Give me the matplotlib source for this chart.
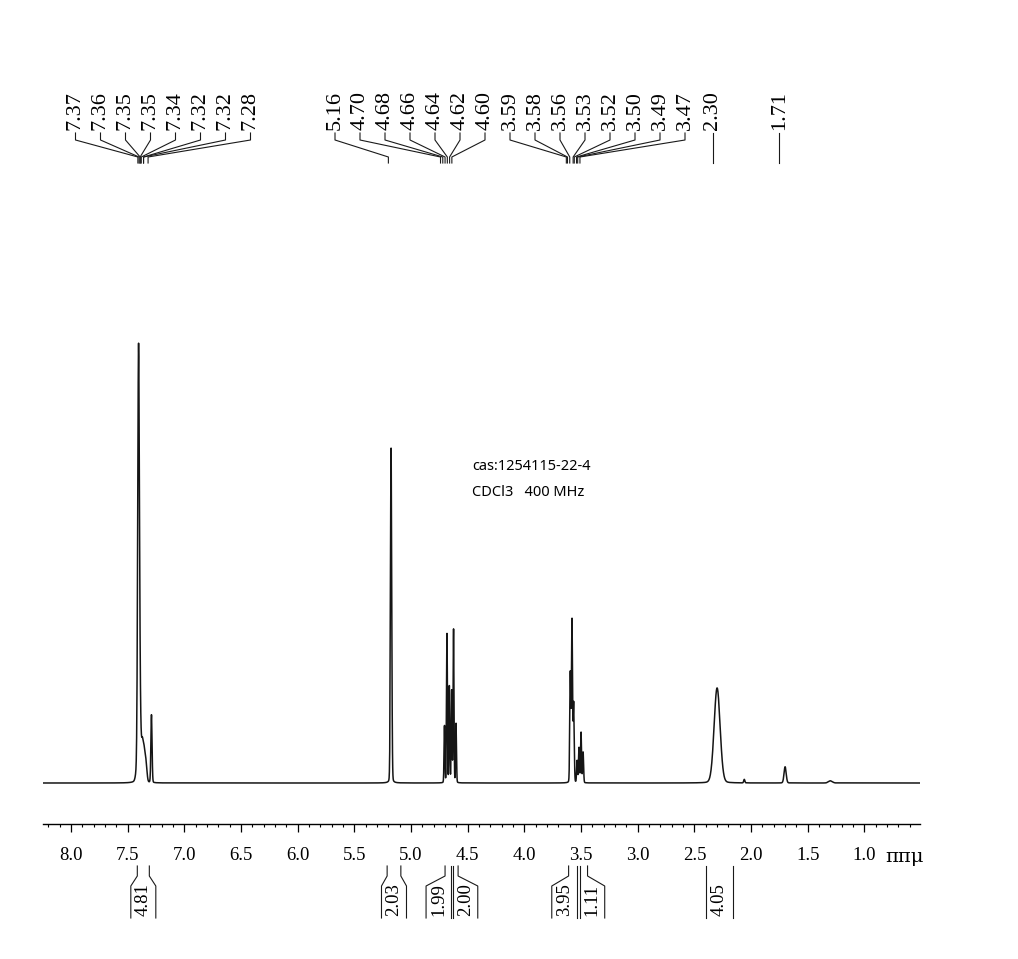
import numpy as np
import matplotlib
matplotlib.use("Agg")
import matplotlib.pyplot as plt
from matplotlib.transforms import blended_transform_factory

plt.rcParams['font.family'] = ['Liberation Serif', 'DejaVu Serif']

W, H = 1018, 959

# peaks: shift (ppm), height (% of tallest), width (ppm)
peak_ppm = [7.404, 7.390, 7.370, 7.354, 7.338, 7.425, 7.290,
            5.176,
            4.705, 4.683, 4.662, 4.642, 4.625, 4.603,
            3.595, 3.580, 3.565, 3.535, 3.518, 3.500, 3.482,
            2.300, 2.060, 1.700, 1.300]
peak_height = [97, 12, 8, 6, 4, 1.2, 15.5,
               76.5,
               13, 34, 22, 21, 35, 13.5,
               25, 37, 18, 5, 8, 11.5, 7,
               21.7, 0.8, 3.7, 0.5]
peak_width = [0.018, 0.02, 0.02, 0.02, 0.02, 0.02, 0.012,
              0.013,
              0.009, 0.009, 0.009, 0.009, 0.009, 0.009,
              0.011, 0.011, 0.011, 0.01, 0.01, 0.01, 0.01,
              0.062, 0.012, 0.022, 0.04]

# shift labels at the top
group1_labels = ["7.37", "7.36", "7.35", "7.35", "7.34", "7.32", "7.32", "7.28"]
group2_labels = ["5.16", "4.70", "4.68", "4.66", "4.64", "4.62", "4.60",
                 "3.59", "3.58", "3.56", "3.53", "3.52", "3.50", "3.49", "3.47"]
single_labels = ["2.30", "1.71"]

# integrals under the axis
int_values = ["4.81", "2.03", "1.99", "2.00", "3.95", "1.11", "4.05"]
int_from = [7.415, 5.211, 4.700, 4.632, 3.610, 3.512, 2.395]
int_to = [7.309, 5.090, 4.647, 4.585, 3.538, 3.443, 2.163]
int_widen = ["both", "both", "left", "right", "left", "right", "none"]

xmin, xmax = 0.51, 8.247
ax_left, ax_right = 43, 920
ax_top, ax_bottom = 60, 824
base_px = 783
px_per_unit = 4.38


def fy(py):
    return 1 - py / H


ppm_per_px = (xmax - xmin) / (ax_right - ax_left)

fig = plt.figure(figsize=(W / 100, H / 100), dpi=100)
ax = fig.add_axes([ax_left / W, fy(ax_bottom), (ax_right - ax_left) / W, (ax_bottom - ax_top) / H])

# mostly gaussian line shape with a little lorentzian tail
eta = 0.08
x = np.linspace(xmin, xmax, 16000)
y = np.zeros_like(x)
for p, h, w in zip(peak_ppm, peak_height, peak_width):
    u = (x - p) / (w / 2)
    y += h * ((1 - eta) * np.exp(-np.log(2) * u ** 2) + eta / (1 + u ** 2))
ax.plot(x, y, color='#151515', lw=1.1)

ax.set_xlim(xmax, xmin)
ax.set_ylim(-(ax_bottom - base_px) / px_per_unit, (base_px - ax_top) / px_per_unit)
for s in ['top', 'left', 'right']:
    ax.spines[s].set_visible(False)
ax.spines['bottom'].set_linewidth(1.0)
ax.set_yticks([])
ax.set_xticks(np.arange(1.0, 8.01, 0.5))
ax.set_xticklabels([f"{v:.1f}" for v in np.arange(1.0, 8.01, 0.5)])
ax.set_xticks(np.arange(0.6, 8.25, 0.1), minor=True)
ax.tick_params(axis='x', which='major', direction='out', length=5.6, width=0.9, labelsize=13.5, pad=11)
ax.tick_params(axis='x', which='minor', direction='out', length=2.3, width=0.8)

tr = blended_transform_factory(ax.transData, fig.transFigure)
offset = 0.04
lab_kw = dict(rotation=90, ha='center', va='bottom', fontsize=16, transform=tr)
line_kw = dict(color='#1a1a1a', lw=0.8, transform=tr, clip_on=False)


def leaders(labels, start_px):
    start = xmax - (start_px - ax_left) * ppm_per_px
    step = 25 * ppm_per_px
    for i, lab in enumerate(labels):
        tx = start - i * step
        px = float(lab) + offset
        ax.text(tx, fy(130), lab, **lab_kw)
        ax.plot([tx, tx, px, px], [fy(133), fy(140), fy(157), fy(163)], **line_kw)


leaders(group1_labels, 75.5)
leaders(group2_labels, 335)
for lab in single_labels:
    px = float(lab) + offset
    ax.text(px, fy(130), lab, **lab_kw)
    ax.plot([px, px], [fy(133), fy(163)], **line_kw)

# integral brackets
need = 25 * ppm_per_px
for val, a, b, mode in zip(int_values, int_from, int_to, int_widen):
    extra = max(0, need - (a - b))
    lo, hi = a, b
    if mode == "both":
        lo, hi = a + extra / 2, b - extra / 2
    elif mode == "left":
        lo = a + extra
    elif mode == "right":
        hi = b - extra
    ax.plot([lo, lo, a, a], [fy(918), fy(886), fy(876), fy(866)], **line_kw)
    ax.plot([hi, hi, b, b], [fy(918), fy(886), fy(876), fy(866)], **line_kw)
    ax.text((lo + hi) / 2, fy(900), val, rotation=90, ha='center', va='center',
            fontsize=13.5, transform=tr)

fig.text(885 / W, fy(857), "ππμ", fontsize=14, va='center', ha='left',
         family=['DejaVu Serif'])

fig.text(472 / W, fy(466), "cas:1254115-22-4", fontsize=10.5, va='center', ha='left',
         family=['Noto Sans', 'DejaVu Sans'])
fig.text(472 / W, fy(492), "CDCl3   400 MHz", fontsize=10.5, va='center', ha='left',
         family=['Noto Sans', 'DejaVu Sans'])

fig.savefig("out.png", dpi=100)
